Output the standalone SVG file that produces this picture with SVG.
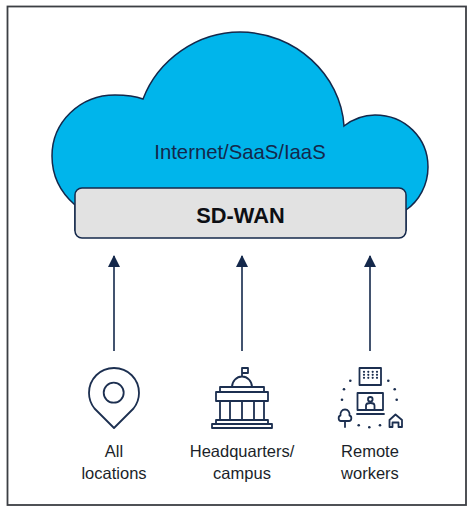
<svg xmlns="http://www.w3.org/2000/svg" width="474" height="513" viewBox="0 0 474 513">
<style>
.ic{fill:none;stroke:#1c2f50;stroke-width:1.800;stroke-linejoin:round;stroke-linecap:round}
.dot{fill:#1c2f50}
text{font-family:"Liberation Sans",Arial,sans-serif;fill:#1b1f2a;text-anchor:middle}
.lb{font-size:16.500px}
.arrow{stroke:#14284b;stroke-width:1.600;fill:none;marker-end:url(#ah)}
</style>
<defs><marker id="ah" markerUnits="userSpaceOnUse" markerWidth="12" markerHeight="13" refX="11" refY="6" orient="auto"><path d="M0 0L12 6L0 12Z" fill="#14284b"/></marker></defs>
<rect x="7.500" y="6.500" width="458.500" height="498.500" fill="#fff" stroke="#3c3f44" stroke-width="1.800"/>
<g id="cloud">
<path d="M75 205C60 192 52 175 52 156C52 122 80 95 115 95C125 95 135 96 143 99C158 60 197 32 240 32C295 32 341 75 344 126C353 119 364 115 375 115C405 115 428 138 428 167C428 185 419 201 406 210L406 230L75 230Z" fill="#00b5eb" stroke="#14284b" stroke-width="1.500"/>
<text x="240" y="159" font-size="20.300" style="fill:#14284b">Internet/SaaS/IaaS</text>
</g>
<g id="sdwan">
<rect x="75" y="188" width="331" height="50" rx="7" fill="#e2e2e2" stroke="#14284b" stroke-width="1.500"/>
<text x="240.500" y="222.500" font-size="21.800" font-weight="700" style="fill:#0d0f14">SD-WAN</text>
</g>
<g id="connectors">
<path class="arrow" d="M114 351V256"/>
<path class="arrow" d="M242 351V256"/>
<path class="arrow" d="M370 351V256"/>
</g>
<g id="all-locations">
<path class="ic" d="M114 428L94.500 408.500C90.500 403.500 89 398 89 393C89 379 100 368 114 368C128 368 139 379 139 393C139 398 137.500 403.500 133.500 408.500Z"/>
<circle class="ic" cx="113.700" cy="392.700" r="10"/>
<text class="lb" x="114" y="457">All</text>
<text class="lb" x="114" y="479">locations</text>
</g>
<g id="headquarters">
<path class="ic" d="M212 424H272V428H212ZM216 424V420H268V424M216 392H268V401H216ZM220 392V387H264V392M220 401V420M230 401V420M242 401V420M254 401V420M264 401V420M232 387A10 10.500 0 0 1 252 387M242 376V368H248V373H242"/>
<text class="lb" x="242" y="457">Headquarters/</text>
<text class="lb" x="242" y="479">campus</text>
</g>
<g id="remote-workers">
<rect class="ic" x="359.500" y="368" width="21.500" height="17"/>
<g class="dot"><circle cx="364" cy="371.800" r="1.100"/><circle cx="368.300" cy="371.800" r="1.100"/><circle cx="372.700" cy="371.800" r="1.100"/><circle cx="377" cy="371.800" r="1.100"/><circle cx="364" cy="374.800" r="1.100"/><circle cx="368.300" cy="374.800" r="1.100"/><circle cx="372.700" cy="374.800" r="1.100"/><circle cx="377" cy="374.800" r="1.100"/><circle cx="364" cy="377.800" r="1.100"/><circle cx="368.300" cy="377.800" r="1.100"/><circle cx="372.700" cy="377.800" r="1.100"/><circle cx="377" cy="377.800" r="1.100"/></g>
<rect class="ic" x="357.500" y="393" width="25.500" height="17"/>
<path class="ic" d="M357 414H384M366 410V405.500C366 403.500 368 403 370.500 403C373 403 374.500 403.500 374.500 405.500V410"/>
<circle class="ic" cx="370.300" cy="399.300" r="2.300"/>
<g class="dot"><circle cx="350.300" cy="380.700" r="1.300"/><circle cx="388.300" cy="380.700" r="1.300"/><circle cx="344" cy="389.300" r="1.300"/><circle cx="394.700" cy="389.300" r="1.300"/><circle cx="342" cy="399.700" r="1.300"/><circle cx="396.700" cy="399.700" r="1.300"/><circle cx="358.700" cy="425.300" r="1.300"/><circle cx="369.300" cy="427.300" r="1.300"/><circle cx="380" cy="425.300" r="1.300"/></g>
<path class="ic" d="M345 427V421M345 421H341C338 421 338 416 340.500 415.500C340 412 342 409.500 345 409.500C348 409.500 350 412 349.500 415.500C352 416 352 421 349 421Z"/>
<path class="ic" d="M389.500 427V420L395.500 414.500L402 420V427H398.500V422.500H392.500V427Z"/>
<text class="lb" x="370" y="457">Remote</text>
<text class="lb" x="370" y="479">workers</text>
</g>
</svg>
